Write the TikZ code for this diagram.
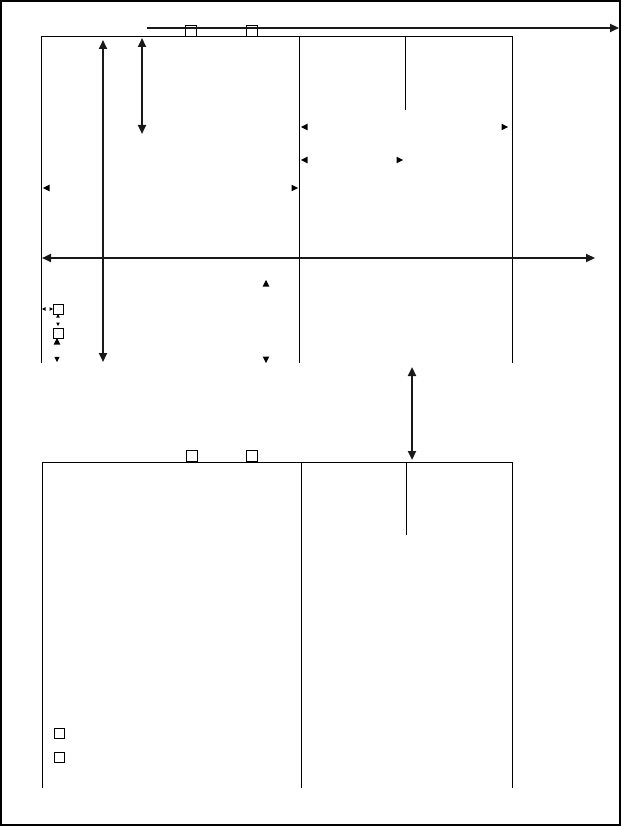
\documentclass[tikz,border=0pt]{standalone}
\usetikzlibrary{arrows.meta,positioning}

\begin{document}
\begin{tikzpicture}[x=1pt,y=-1pt,
		wall/.style={line width=1pt},
		dimline/.style={line width=2.2pt,black!90,{Triangle[length=9pt,width=8pt]}-{Triangle[length=9pt,width=8pt]}},
		markbox/.style={draw,line width=0.8pt,inner sep=0pt,minimum size=11pt},
		smallbox/.style={draw,line width=0.8pt,inner sep=0pt,minimum size=10pt},
		tip/.pic={\fill (0,0) -- (6.5,-3.3) -- (6.5,3.3) -- cycle;},
		tinytip/.pic={\fill (0,0) -- (3.5,-1.8) -- (3.5,1.8) -- cycle;}]
		\useasboundingbox (0,0) rectangle (621,826);
		\draw[line width=1.2pt] (1,1) rectangle (620,825);

		% upper plan
		\coordinate (ua) at (41,37);
		\coordinate (ub) at (299,37);
		\coordinate (uc) at (405,37);
		\coordinate (ud) at (512,37);
		\draw[wall] (41,363) -- (ua) -- (ud) -- (512,363);
		\draw[wall] (ub) -- (299,363);
		\draw[wall] (uc) -- (405,110);
		\node[markbox] (u1) at (191,31) {};
		\node[markbox] (u2) at (252,31) {};
		\node[smallbox] (u3) at (58,309) {};
		\node[smallbox] (u4) at (58,333) {};

		% lower plan
		\coordinate (la) at (42,462);
		\coordinate (lb) at (301,462);
		\coordinate (lc) at (406,462);
		\coordinate (ld) at (512,462);
		\draw[wall] (42,788) -- (la) -- (ld) -- (512,788);
		\draw[wall] (lb) -- (301,788);
		\draw[wall] (lc) -- (406,535);
		\node[markbox] (l1) at (191.5,455.5) {};
		\node[markbox] (l2) at (252,455.5) {};
		\node[smallbox] (l3) at (59,733.5) {};
		\node[smallbox] (l4) at (59,757.5) {};

		% dimension arrows
		\draw[line width=2.2pt,black!90,-{Triangle[length=9pt,width=8pt]}] (147,28) -- (619,28);
		\draw[dimline] (103,40) -- (103,362);
		\draw[dimline] (142,38) -- (142,134);
		\draw[dimline] (42,258) -- (595,258);
		\draw[dimline] (412,367) -- (412,460);

		% loose tips
		\pic at (301,127) {tip};
		\pic[rotate=180] at (508,127) {tip};
		\pic at (301,160) {tip};
		\pic[rotate=180] at (403,160) {tip};
		\pic at (43,188) {tip};
		\pic[rotate=180] at (298,188) {tip};
		\pic[rotate=-90] at (266,280) {tip};
		\pic[rotate=90] at (266,363) {tip};
		\pic[rotate=-90] at (57,338) {tip};
		\pic[rotate=90,scale=0.8] at (57,362) {tip};
		\pic at (42,309) {tinytip};
		\pic[rotate=180] at (53,309) {tinytip};
		\pic[rotate=-90] at (58,314) {tinytip};
		\pic[rotate=90] at (58,326) {tinytip};
	\end{tikzpicture}
\end{document}
